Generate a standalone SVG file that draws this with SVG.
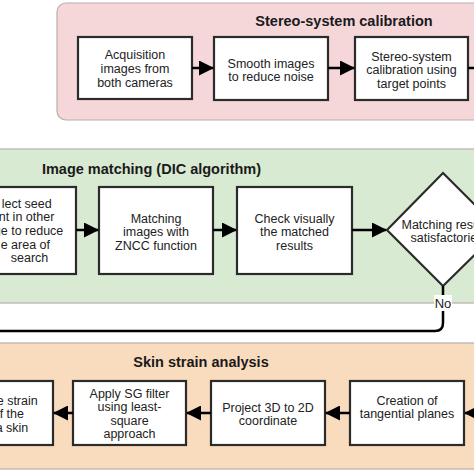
<svg xmlns="http://www.w3.org/2000/svg" width="474" height="474" viewBox="0 0 474 474">
<style>
.panel{stroke:#b8aeae;stroke-width:1.2}
.box{fill:#fff;stroke:#2b2b2b;stroke-width:2.2}
.t{font-family:"Liberation Sans",Arial,sans-serif;font-size:12.5px;fill:#222;text-anchor:middle}
.te{font-family:"Liberation Sans",Arial,sans-serif;font-size:12.5px;fill:#222;text-anchor:end}
.h{font-family:"Liberation Sans",Arial,sans-serif;font-size:14.5px;font-weight:bold;fill:#1a1a1a;text-anchor:middle}
.c{fill:none;stroke:#000;stroke-width:2.5}
</style>
<defs>
<marker id="ah" markerWidth="6" markerHeight="6" refX="5.6" refY="3" orient="auto" markerUnits="strokeWidth">
<path d="M0,0 L6,3 L0,6 Z" fill="#000"/>
</marker>
</defs>
<rect width="474" height="474" fill="#fff"/>

<g id="panel-calibration">
<rect class="panel" x="57" y="3" width="440" height="117" rx="9" fill="#f5d7da"/>
<text class="h" x="344" y="26">Stereo-system calibration</text>
</g>
<g id="panel-matching">
<rect class="panel" x="-10" y="149" width="500" height="154" fill="#d9ead3"/>
<text class="h" x="151.5" y="174">Image matching (DIC algorithm)</text>
</g>
<g id="panel-strain">
<rect class="panel" x="-10" y="343" width="500" height="126" fill="#f9dbbe"/>
<text class="h" x="201" y="367">Skin strain analysis</text>
</g>

<g id="n1">
<rect class="box" x="78" y="37" width="114" height="62"/>
<text class="t" x="135" y="58.5">Acquisition</text>
<text class="t" x="135" y="72.5">images from</text>
<text class="t" x="135" y="86.5">both cameras</text>
</g>
<g id="n2">
<rect class="box" x="214" y="37" width="114" height="63"/>
<text class="t" x="271" y="67.5">Smooth images</text>
<text class="t" x="271" y="81">to reduce noise</text>
</g>
<g id="n3">
<rect class="box" x="355" y="37" width="113" height="63"/>
<text class="t" x="411.5" y="60.5">Stereo-system</text>
<text class="t" x="411.5" y="74">calibration using</text>
<text class="t" x="411.5" y="87.5">target points</text>
</g>

<g id="n4">
<rect class="box" x="-40" y="187" width="116" height="87"/>
<text class="te" x="51.7" y="207.5">lect seed</text>
<text class="te" x="54.3" y="221">nt in other</text>
<text class="te" x="63.3" y="235">ge to reduce</text>
<text class="te" x="50" y="248.5">e area of</text>
<text class="te" x="48.3" y="261.5">search</text>
</g>
<g id="n5">
<rect class="box" x="99" y="187" width="114" height="87"/>
<text class="t" x="156" y="222.5">Matching</text>
<text class="t" x="156" y="236">images with</text>
<text class="t" x="156" y="249.5">ZNCC function</text>
</g>
<g id="n6">
<rect class="box" x="237" y="187" width="115" height="87"/>
<text class="t" x="294.5" y="222.5">Check visually</text>
<text class="t" x="294.5" y="236">the matched</text>
<text class="t" x="294.5" y="249.5">results</text>
</g>
<g id="n7">
<polygon class="box" points="443,173 500,230 443,286 387,230"/>
<text class="t" x="447" y="228.5">Matching results</text>
<text class="t" x="447" y="242">satisfactories</text>
</g>

<g id="n8">
<rect class="box" x="-60" y="381" width="113" height="64"/>
<text class="te" x="37.7" y="404.5">e strain</text>
<text class="te" x="24" y="418">f the</text>
<text class="te" x="28.3" y="431.5">a skin</text>
</g>
<g id="n9">
<rect class="box" x="73" y="381" width="113" height="64"/>
<text class="t" x="129.5" y="397.5">Apply SG filter</text>
<text class="t" x="129.5" y="411">using least-</text>
<text class="t" x="129.5" y="424.5">square</text>
<text class="t" x="129.5" y="438">approach</text>
</g>
<g id="n10">
<rect class="box" x="211" y="381" width="114" height="64"/>
<text class="t" x="268" y="411.5">Project 3D to 2D</text>
<text class="t" x="268" y="425">coordinate</text>
</g>
<g id="n11">
<rect class="box" x="350" y="381" width="114" height="64"/>
<text class="t" x="407" y="404.5">Creation of</text>
<text class="t" x="407" y="418">tangential planes</text>
</g>

<g id="connectors">
<line class="c" x1="192" y1="68" x2="213" y2="68" marker-end="url(#ah)"/>
<line class="c" x1="328" y1="68" x2="354" y2="68" marker-end="url(#ah)"/>
<line class="c" x1="468" y1="68" x2="480" y2="68"/>
<line class="c" x1="76" y1="230" x2="98" y2="230" marker-end="url(#ah)"/>
<line class="c" x1="213" y1="230" x2="236" y2="230" marker-end="url(#ah)"/>
<line class="c" x1="352" y1="230" x2="386" y2="230" marker-end="url(#ah)"/>
<path class="c" d="M443,286 L443,323 Q443,331 435,331 L-10,331"/>
<rect x="434" y="295" width="18" height="16" fill="#fff"/>
<text class="t" x="443" y="308" style="font-size:13px">No</text>
<line class="c" x1="480" y1="413" x2="465" y2="413" marker-end="url(#ah)"/>
<line class="c" x1="350" y1="413" x2="326" y2="413" marker-end="url(#ah)"/>
<line class="c" x1="211" y1="413" x2="187" y2="413" marker-end="url(#ah)"/>
<line class="c" x1="73" y1="413" x2="54" y2="413" marker-end="url(#ah)"/>
</g>
</svg>
